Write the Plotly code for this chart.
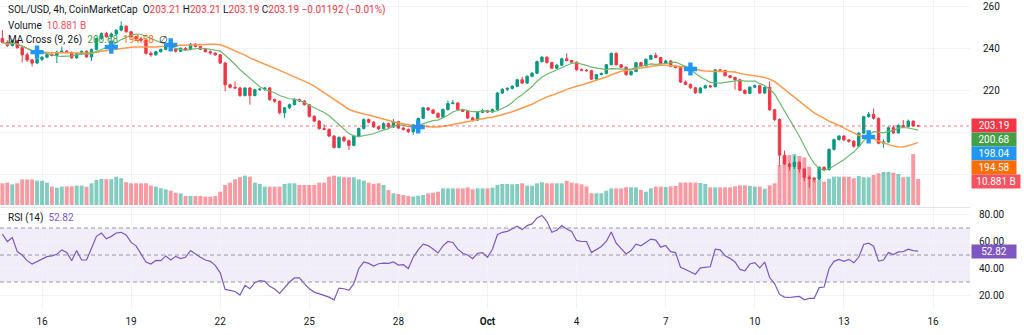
import pandas as pd
import plotly.graph_objects as go

# ---------------- data (SOL/USD 4h) ----------------
first_candle = "2025-09-14 16:00"

open_ = [244.7, 242.8, 241.3, 243.5, 240.3, 236.9, 234.5, 233.0,
 234.8, 235.8, 237.0, 236.6, 238.2, 238.6, 238.0, 235.5, 237.5, 238.6,
 235.9, 239.5, 244.7, 247.0, 245.5, 246.8, 248.6, 250.5, 247.8, 245.5,
 244.5, 243.8, 237.6, 236.9, 238.4, 239.5, 240.8, 239.6, 238.6, 240.0,
 239.4, 242.0, 240.8, 239.5, 238.4, 237.8, 236.9, 233.0, 222.7, 221.5,
 221.2, 217.6, 221.2, 217.6, 220.4, 220.6, 221.2, 215.7, 214.9, 209.4,
 211.8, 213.3, 215.7, 215.0, 213.3, 207.8, 205.5, 201.9, 201.6, 198.4,
 193.0, 197.8, 196.2, 194.0, 198.4, 202.0, 206.2, 205.0, 202.8, 201.9,
 204.3, 202.7, 205.2, 202.2, 201.6, 200.5, 203.6, 206.8, 211.8, 210.8,
 209.2, 207.3, 211.0, 213.8, 214.1, 211.0, 210.1, 207.0, 206.0, 209.6,
 210.4, 209.8, 211.0, 218.8, 220.6, 221.0, 222.0, 225.1, 223.5, 226.7,
 228.2, 233.7, 235.8, 233.3, 230.6, 232.0, 235.0, 234.2, 233.4, 229.8,
 229.6, 229.4, 225.4, 227.5, 228.0, 232.2, 237.6, 232.2, 231.0, 227.5,
 229.0, 233.2, 231.7, 234.8, 236.6, 235.6, 232.8, 234.0, 231.5, 230.9,
 224.0, 222.9, 221.3, 218.9, 221.2, 222.2, 221.8, 229.8, 229.5, 227.0,
 226.2, 225.1, 220.1, 218.6, 221.6, 222.3, 218.8, 221.5, 210.9, 206.2,
 189.3, 185.2, 184.0, 186.0, 182.8, 178.9, 178.3, 178.0, 183.6, 182.5,
 192.1, 196.7, 198.4, 196.6, 196.0, 193.6, 199.8, 207.6, 208.7, 206.8,
 195.0, 195.6, 202.4, 199.9, 203.4, 202.8, 205.5, 203.21]

high = [248.6, 243.8, 244.2, 244.0, 240.8, 238.0, 235.0, 235.2,
 236.3, 237.5, 237.8, 238.8, 240.8, 239.2, 238.5, 238.0, 238.9, 239.0,
 239.8, 245.0, 247.5, 247.8, 247.5, 249.0, 252.8, 250.8, 248.3, 246.0,
 245.5, 244.2, 238.5, 238.8, 239.8, 241.2, 241.5, 240.2, 240.5, 240.5,
 242.5, 242.3, 241.0, 239.8, 239.0, 238.0, 237.2, 233.6, 223.2, 224.3,
 221.8, 221.6, 221.6, 220.8, 221.2, 221.6, 221.6, 216.2, 215.3, 212.2,
 213.8, 216.4, 216.2, 215.5, 213.6, 208.2, 206.0, 203.9, 202.0, 198.8,
 198.3, 198.5, 196.8, 198.8, 202.5, 206.8, 206.8, 205.5, 203.2, 205.0,
 204.8, 206.5, 205.6, 202.6, 202.0, 204.0, 207.2, 212.3, 212.2, 211.2,
 209.5, 211.5, 215.3, 215.5, 214.4, 211.3, 210.4, 207.5, 210.0, 211.3,
 210.8, 211.5, 219.3, 221.0, 221.5, 222.5, 225.6, 226.5, 227.2, 228.8,
 234.2, 236.3, 236.2, 233.6, 232.5, 235.5, 237.6, 234.5, 233.8, 230.5,
 230.2, 229.8, 227.9, 228.6, 232.6, 238.0, 238.0, 232.6, 231.4, 229.4,
 233.6, 233.6, 235.2, 237.0, 238.0, 236.0, 234.6, 234.3, 232.0, 231.3,
 224.7, 223.3, 221.6, 221.6, 222.8, 222.5, 230.2, 230.3, 229.8, 227.4,
 226.6, 225.6, 220.5, 222.0, 222.8, 222.6, 221.9, 224.3, 211.3, 206.8,
 191.5, 185.8, 189.0, 186.5, 183.3, 179.8, 178.8, 184.0, 184.0, 192.5,
 197.2, 198.9, 198.8, 197.0, 196.4, 200.3, 208.0, 209.8, 211.5, 207.2,
 196.8, 202.9, 203.5, 204.0, 206.0, 206.2, 205.8, 203.21]

low = [242.3, 240.6, 240.8, 239.8, 233.3, 233.5, 231.4, 232.5,
 234.0, 235.3, 236.2, 233.0, 237.8, 237.8, 235.0, 235.0, 236.8, 235.5,
 234.0, 239.0, 244.0, 245.0, 244.5, 246.0, 248.0, 247.5, 245.0, 243.8,
 243.0, 237.0, 236.0, 236.5, 238.0, 239.0, 239.0, 238.0, 238.2, 239.0,
 239.0, 240.5, 239.2, 238.0, 237.0, 236.5, 232.5, 219.6, 221.0, 220.8,
 217.0, 217.2, 213.3, 217.2, 219.8, 219.8, 215.2, 214.2, 208.8, 207.0,
 211.2, 213.0, 214.5, 212.8, 207.2, 205.0, 201.5, 201.2, 198.0, 192.5,
 192.5, 195.5, 191.8, 193.5, 197.8, 201.5, 204.5, 202.3, 201.2, 201.5,
 202.2, 202.3, 201.8, 201.0, 199.8, 199.0, 203.0, 206.5, 210.3, 208.8,
 206.8, 207.0, 210.5, 213.5, 210.6, 209.8, 206.5, 205.2, 205.5, 209.3,
 209.3, 209.5, 210.8, 218.3, 219.6, 220.5, 221.5, 223.0, 223.0, 226.2,
 227.8, 233.2, 232.8, 230.2, 230.2, 231.5, 233.8, 233.0, 229.4, 229.2,
 229.0, 225.0, 225.0, 227.2, 227.7, 231.9, 231.8, 230.6, 227.0, 227.0,
 228.6, 231.2, 231.3, 234.4, 235.3, 232.4, 232.5, 231.0, 230.5, 223.6,
 222.5, 220.8, 218.4, 218.6, 220.9, 221.2, 221.5, 229.0, 226.6, 225.8,
 220.4, 219.6, 218.2, 218.3, 221.2, 218.4, 218.4, 210.3, 205.6, 184.3,
 184.6, 182.0, 182.8, 181.0, 177.0, 174.0, 176.5, 177.6, 181.8, 182.0,
 191.5, 196.2, 196.0, 195.2, 192.9, 193.2, 199.4, 207.2, 206.2, 194.5,
 192.9, 195.2, 199.5, 199.5, 202.3, 202.5, 203.0, 203.19]

close = [242.8, 241.3, 243.5, 240.3, 236.9, 234.5, 233.0, 234.8,
 235.8, 237.0, 236.6, 238.2, 238.6, 238.0, 235.5, 237.5, 238.6, 235.9,
 239.5, 244.7, 247.0, 245.5, 246.8, 248.6, 250.5, 247.8, 245.5, 244.5,
 243.8, 237.6, 236.9, 238.4, 239.5, 240.8, 239.6, 238.6, 240.0, 239.4,
 242.0, 240.8, 239.5, 238.4, 237.8, 236.9, 233.0, 222.7, 221.5, 221.2,
 217.6, 221.2, 217.6, 220.4, 220.6, 221.2, 215.7, 214.9, 209.4, 211.8,
 213.3, 215.7, 215.0, 213.3, 207.8, 205.5, 201.9, 201.6, 198.4, 193.0,
 197.8, 196.2, 194.0, 198.4, 202.0, 206.2, 205.0, 202.8, 201.9, 204.3,
 202.7, 205.2, 202.2, 201.6, 200.5, 203.6, 206.8, 211.8, 210.8, 209.2,
 207.3, 211.0, 213.8, 214.1, 211.0, 210.1, 207.0, 206.0, 209.6, 210.4,
 209.8, 211.0, 218.8, 220.6, 221.0, 222.0, 225.1, 223.5, 226.7, 228.2,
 233.7, 235.8, 233.3, 230.6, 232.0, 235.0, 234.2, 233.4, 229.8, 229.6,
 229.4, 225.4, 227.5, 228.0, 232.2, 237.6, 232.2, 231.0, 227.5, 229.0,
 233.2, 231.7, 234.8, 236.6, 235.6, 232.8, 234.0, 231.5, 230.9, 224.0,
 222.9, 221.3, 218.9, 221.2, 222.2, 221.8, 229.8, 229.5, 227.0, 226.2,
 225.1, 220.1, 218.6, 221.6, 222.3, 218.8, 221.5, 210.9, 206.2, 189.3,
 185.2, 184.0, 186.0, 182.8, 178.9, 178.3, 178.0, 183.6, 182.5, 192.1,
 196.7, 198.4, 196.6, 196.0, 193.6, 199.8, 207.6, 208.7, 206.8, 195.0,
 195.6, 202.4, 199.9, 203.4, 202.8, 205.5, 203.20, 203.19]

volume_b = [9.07, 9.35, 8.65, 9.07, 10.7, 10.7, 10.7, 10.2,
 10.1, 9.35, 7.67, 7.25, 7.67, 7.8, 7.8, 8.1, 8.1, 7.67,
 9.07, 10.5, 10.9, 10.8, 10.8, 11.85, 11.2, 9.5, 9.07, 9.07,
 9.07, 9.07, 8.1, 7.67, 7.0, 6.56, 6.0, 5.16, 4.88, 3.77,
 3.77, 3.77, 3.77, 3.5, 3.5, 3.77, 5.58, 8.37, 9.35, 10.74,
 11.6, 12.27, 11.85, 9.35, 8.79, 7.67, 7.67, 7.67, 7.67, 8.79,
 9.07, 9.07, 8.37, 8.37, 8.37, 8.37, 9.35, 9.35, 11.85, 12.27,
 11.85, 11.6, 11.6, 11.6, 10.74, 10.2, 9.35, 8.9, 9.07, 8.37,
 6.28, 4.88, 4.6, 4.18, 3.77, 3.5, 3.9, 4.18, 4.88, 5.16,
 5.58, 6.97, 6.97, 6.97, 6.97, 6.97, 7.39, 6.56, 6.97, 6.97,
 6.97, 7.25, 8.37, 8.79, 8.79, 8.65, 8.79, 9.07, 8.1, 8.1,
 9.07, 9.5, 9.07, 9.07, 9.07, 9.07, 10.1, 9.35, 9.07, 8.65,
 7.8, 4.88, 4.88, 4.88, 6.0, 6.97, 6.97, 6.97, 7.39, 7.39,
 7.39, 6.28, 5.58, 6.97, 7.67, 7.67, 7.5, 7.8, 7.95, 9.35,
 9.4, 9.4, 9.4, 9.2, 8.79, 7.39, 7.39, 7.39, 7.39, 7.39,
 7.8, 8.23, 8.23, 8.0, 7.67, 7.67, 6.83, 8.23, 9.07, 16.7,
 20.5, 20.9, 21.3, 20.5, 19.9, 16.0, 11.6, 10.46, 9.76, 11.0,
 11.85, 11.85, 11.85, 11.85, 11.2, 12.1, 11.6, 11.6, 12.55, 13.25,
 13.8, 13.8, 13.5, 13.0, 11.6, 11.85, 21.3, 10.881]

rsi = [65.5, 60, 63, 52.5, 50, 45.8, 43.3, 45,
 47, 48.8, 49.3, 50.5, 53.8, 51.8, 45.8, 53.3, 46.3, 46.3,
 55, 63.8, 66.3, 62, 63.8, 66.3, 66.8, 64.8, 59.3, 56.8,
 50.8, 44.8, 43.3, 46, 45.8, 49.3, 46.3, 49, 47.3, 48.3,
 53.3, 50.5, 48.3, 46.3, 45.3, 42.3, 36.8, 24.5, 23.8, 23,
 20.3, 27.5, 25, 29.5, 31, 30.5, 26.8, 24.8, 21.5, 25.8,
 30, 33, 33, 28.8, 25, 22.5, 21.3, 20.5, 18.8, 16.8,
 25.5, 25, 23.8, 28.8, 40, 44.8, 43.8, 41.8, 43.5, 44,
 43.8, 44.8, 42.5, 42.8, 40, 48.3, 53.8, 58, 57, 54.5,
 51.5, 56.8, 60, 59.3, 54.3, 51.3, 50, 47.3, 51.3, 51.8,
 48.3, 54.3, 65, 66.8, 67.5, 69.5, 71.3, 68.8, 71.8, 73,
 77.5, 79.3, 75, 66.8, 68.3, 71.8, 69.3, 67.5, 60.8, 60,
 60, 51.8, 54.3, 56.3, 60, 67, 58.8, 55, 50.8, 53.3,
 58, 56.8, 59.3, 61.8, 61, 55.8, 57, 52.5, 51.8, 40.8,
 39.3, 37.3, 35.8, 40.5, 41, 41.3, 54.3, 53.8, 49.5, 47.5,
 44.8, 39.3, 38.3, 43.3, 44.3, 40.5, 44.8, 33.3, 28.8, 20.8,
 18.8, 18.5, 19, 19.3, 16.8, 17.8, 17.8, 25.8, 26.3, 40,
 45.3, 46.8, 45.3, 46.8, 44.3, 48.3, 57.8, 58.8, 56.5, 45.5,
 46.3, 51.8, 50.3, 52.3, 52.5, 54.3, 53.3, 52.82]

# MA-cross events (candle position counted from the first candle, price at cross)
cross_pos = [7, 22, 34, 84, 139, 175]
cross_price = [238.2, 240.6, 241.6, 202.7, 230.2, 198.04]

ma_fast_last, ma_slow_last = 200.68, 194.58
change_abs, change_pct = -0.01192, -0.01

tick_dates = ["2025-09-16", "2025-09-19", "2025-09-22", "2025-09-25", "2025-09-28",
              "2025-10-01", "2025-10-04", "2025-10-07", "2025-10-10", "2025-10-13", "2025-10-16"]
tick_text = ["16", "19", "22", "25", "28", "<b>Oct</b>", "4", "7", "10", "13", "16"]

# ---------------- derived ----------------
time = pd.date_range(first_candle, periods=len(close), freq="4h")
s = pd.Series(close)
ma9 = s.rolling(9, min_periods=1).mean()
ma26 = s.rolling(26, min_periods=1).mean()

UP, DN = "#089981", "#F23645"
vol_colors = ["rgba(8,153,129,0.5)" if c >= o else "rgba(242,54,69,0.5)"
              for o, c in zip(open_, close)]

step = pd.Timedelta(hours=4)
t_ref = pd.Timestamp("2025-09-16")
PX_PER_CANDLE = 4.95
x_left = t_ref - step * (42 / PX_PER_CANDLE)
x_right = t_ref + step * ((970 - 42) / PX_PER_CANDLE)
bar_w = 0.8 * step.total_seconds() * 1000

FONT = "Roboto, Arial, sans-serif"
TXT = "#131722"
GRID = "#F0F3FA"

fig = go.Figure()
fig.add_trace(go.Bar(x=time, y=volume_b, marker_color=vol_colors, marker_line_width=0,
                     width=bar_w, xaxis="x", yaxis="y2", hoverinfo="skip"))
fig.add_trace(go.Candlestick(
    x=time, open=open_, high=high, low=low, close=close, xaxis="x", yaxis="y",
    increasing=dict(line=dict(color=UP, width=1), fillcolor=UP),
    decreasing=dict(line=dict(color=DN, width=1), fillcolor=DN)))
fig.add_trace(go.Scatter(x=time, y=ma26, mode="lines", line=dict(color="#FF9A4D", width=1.5),
                         xaxis="x", yaxis="y"))
fig.add_trace(go.Scatter(x=time, y=ma9, mode="lines", line=dict(color="#6DB96F", width=1.2),
                         xaxis="x", yaxis="y"))
fig.add_trace(go.Scatter(x=[time[i] for i in cross_pos], y=cross_price, mode="markers",
                         marker=dict(symbol="cross", size=11, color="#2196F3", line_width=0),
                         xaxis="x", yaxis="y"))
fig.add_trace(go.Scatter(x=time, y=rsi, mode="lines", line=dict(color="#7E57C2", width=1.2),
                         xaxis="x2", yaxis="y3"))

H_PLOT = 308.0
main_dom = [1 - 207 / H_PLOT, 1]
rsi_dom = [0, 100 / H_PLOT]

fig.update_layout(
    width=1024, height=335, margin=dict(l=0, r=54, t=0, b=27),
    paper_bgcolor="white", plot_bgcolor="white", showlegend=False,
    font=dict(family=FONT, size=10, color=TXT),
    xaxis=dict(domain=[0, 1], anchor="y", range=[x_left, x_right], type="date",
               tickvals=tick_dates, showticklabels=False, showgrid=True, gridcolor=GRID,
               zeroline=False, showline=False, rangeslider=dict(visible=False), ticks=""),
    xaxis2=dict(domain=[0, 1], anchor="y3", matches="x", range=[x_left, x_right], type="date",
                tickvals=tick_dates, ticktext=tick_text, showgrid=True, gridcolor=GRID,
                zeroline=False, showline=False, ticks="", ticklabelstandoff=6,
                tickfont=dict(size=10, color=TXT)),
    yaxis=dict(domain=main_dom, anchor="x", side="right", range=[164.79, 262.89],
               tickvals=[180, 200, 220, 240, 260], ticktext=["", "", "220", "240", "260"],
               showgrid=True, gridcolor=GRID, zeroline=False, ticks="", ticklabelstandoff=12),
    yaxis2=dict(overlaying="y", range=[-0.837, 85.77], visible=False),
    yaxis3=dict(domain=rsi_dom, anchor="x2", side="right", range=[10.74, 84.81],
                tickvals=[20, 40, 60, 80], tickformat=".2f", showgrid=True, gridcolor=GRID,
                zeroline=False, ticks="", ticklabelstandoff=8),
)

shapes = [
    dict(type="rect", xref="paper", x0=0, x1=1, yref="y3", y0=30, y1=70,
         fillcolor="rgba(126,87,194,0.1)", line_width=0, layer="below"),
    dict(type="line", xref="paper", x0=0, x1=1, yref="paper",
         y0=(H_PLOT - 207.5) / H_PLOT, y1=(H_PLOT - 207.5) / H_PLOT,
         line=dict(color="#E0E3EB", width=1)),
    dict(type="line", xref="paper", x0=0, x1=1, yref="y", y0=close[-1], y1=close[-1],
         line=dict(color="rgba(242,54,69,0.65)", width=1, dash="dot")),
]
for lv in (70, 50, 30):
    shapes.append(dict(type="line", xref="paper", x0=0, x1=1, yref="y3", y0=lv, y1=lv,
                       line=dict(color="rgba(120,123,134,0.75)", width=1, dash="4px,3px")))
fig.update_layout(shapes=shapes)

def red(v):
    return f"<span style='color:{DN}'>{v}</span>"

line1 = ("SOL/USD, 4h, CoinMarketCap  "
         f"O{red(f'{open_[-1]:.2f}')} H{red(f'{high[-1]:.2f}')} "
         f"L{red(f'{low[-1]:.2f}')} C{red(f'{close[-1]:.2f}')} "
         + red(f"{change_abs:.5f} ({change_pct:.2f}%)".replace("-", "\u2212")))
line2 = f"Volume  <span style='color:#F7525F'>{volume_b[-1]:.3f} B</span>"
line3 = (f"MA Cross (9, 26)  <span style='color:#43A047'>{ma_fast_last:.2f}</span>  "
         f"<span style='color:#FF6D00'>{ma_slow_last:.2f}</span>  \u2205")
line4 = f"RSI (14)  <span style='color:#7E57C2'>{rsi[-1]:.2f}</span>"

ann = []
for txt, dy in ((line1, -10), (line2, -25), (line3, -40)):
    ann.append(dict(text=txt, xref="paper", x=0, xanchor="left", xshift=6,
                    yref="paper", y=1, yanchor="middle", yshift=dy, showarrow=False,
                    font=dict(size=10, color=TXT, family=FONT)))
ann.append(dict(text=line4, xref="paper", x=0, xanchor="left", xshift=6,
                yref="y3 domain", y=1, yanchor="middle", yshift=-10, showarrow=False,
                font=dict(size=10, color=TXT, family=FONT)))

labels = [(f"{close[-1]:.2f}", DN, 44), (f"{ma_fast_last:.2f}", "#43A047", 44),
          (f"{cross_price[-1]:.2f}", "#2196F3", 44), (f"{ma_slow_last:.2f}", "#FF6D00", 44),
          (f"{volume_b[-1]:.3f} B", "#F7525F", 48)]
for i, (txt, col, w) in enumerate(labels):
    ann.append(dict(text=txt, xref="paper", x=1, xanchor="left", xshift=1,
                    yref="y", y=close[-1], yanchor="middle", yshift=-14 * i,
                    showarrow=False, bgcolor=col, width=w, height=13, borderpad=0,
                    font=dict(size=10, color="white", family=FONT)))
ann.append(dict(text=f"{rsi[-1]:.2f}", xref="paper", x=1, xanchor="left", xshift=1,
                yref="y3", y=rsi[-1], yanchor="middle", showarrow=False,
                bgcolor="#7E57C2", width=44, height=13, borderpad=0,
                font=dict(size=10, color="white", family=FONT)))
fig.update_layout(annotations=ann)

fig.write_html("out.html")
